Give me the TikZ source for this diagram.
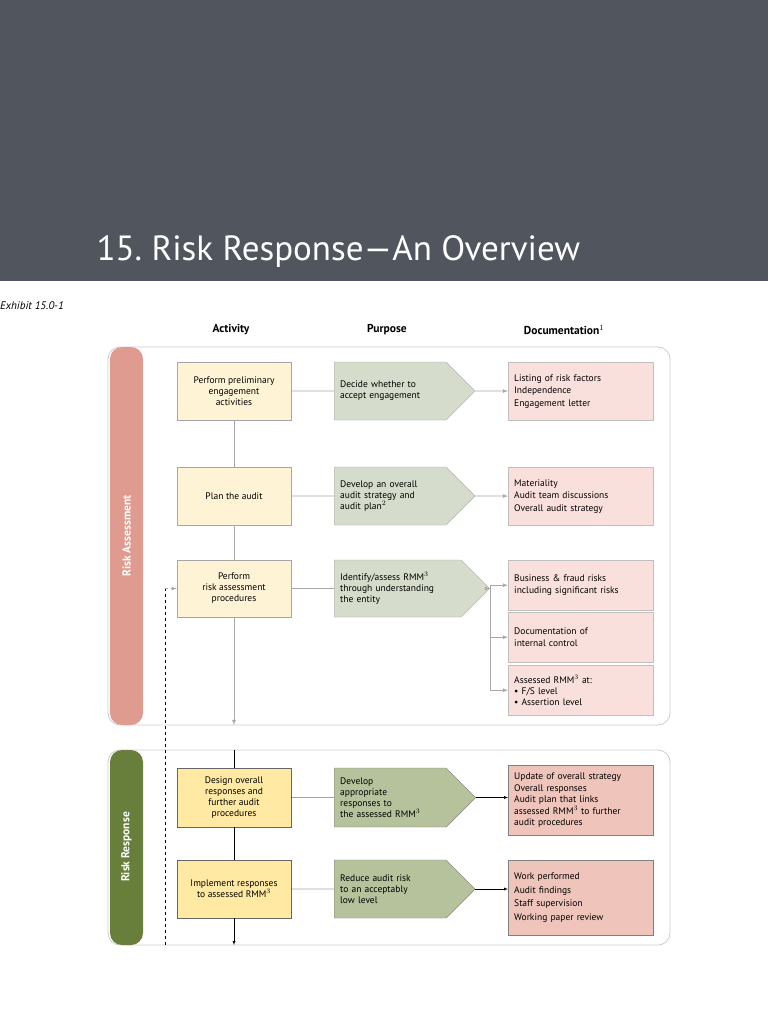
\documentclass[tikz,border=0pt]{standalone}
\usepackage{fontspec}
\setmainfont{PT Sans}
\usetikzlibrary{arrows,shapes,positioning,calc,backgrounds,fit}
\definecolor{head}{HTML}{50555E}
\definecolor{bandA}{HTML}{E09B90}
\definecolor{bandR}{HTML}{677F3A}
\definecolor{actA}{HTML}{FFF3D6}
\definecolor{actR}{HTML}{FFE9A3}
\definecolor{purA}{HTML}{D6DCCB}
\definecolor{purR}{HTML}{B5C29C}
\definecolor{docA}{HTML}{FAE0DC}
\definecolor{docR}{HTML}{EEC4BB}
\definecolor{lineA}{HTML}{A8A8A8}
\begin{document}
\begin{tikzpicture}
[x=1pt,y=-1pt,
panel/.style={draw=black!20,rounded corners=12pt,line width=.8pt},
band/.style={rounded corners=12pt},
activity/.style={draw=black!35,minimum width=114pt,align=center,font=\fontsize{9.5}{11}\selectfont},
purpose/.style={draw=black!35,signal,signal to=east,signal pointer angle=90,
  text width=100pt,align=left,inner xsep=6pt,font=\fontsize{9.5}{11}\selectfont},
docu/.style={draw=black!25,align=left,font=\fontsize{9.5}{12.5}\selectfont},
link/.style={lineA,line width=.8pt},
arr/.style={link,-latex},
]
%% header
\useasboundingbox (0,0) rectangle (768,1024);
\fill[head] (0,0) rectangle (768,281);
\node (title) [anchor=base west,white,font=\fontsize{35}{40}\selectfont] at (93,260)
  {15.\ Risk Response---An Overview};
\node (exh) [anchor=base west,inner sep=0pt,font=\itshape\fontsize{11}{13}\selectfont] at (0,309) {Exhibit 15.0-1};
\node (h1) [font=\bfseries\fontsize{11.5}{13}\selectfont] at (231,330) {Activity};
\node (h2) [font=\bfseries\fontsize{11.5}{13}\selectfont] at (387,330) {Purpose};
\node (h3) [font=\bfseries\fontsize{11.5}{13}\selectfont] at (564,330) {Documentation$^1$};
%% panels
\draw[panel] (108,347) rectangle (670,725);
\draw[panel] (108,750) rectangle (670,945);
\fill[band,bandA] (110,347) rectangle (143,725);
\fill[band,bandR] (110,750) rectangle (143,945);
\node (ba) [rotate=90,white,font=\bfseries\fontsize{11.5}{13}\selectfont] at (126.5,536) {Risk Assessment};
\node (br) [rotate=90,white,font=\bfseries\fontsize{11.5}{13}\selectfont] at (126.5,847) {Risk Response};
%% risk assessment
\node (a1) [activity,fill=actA,minimum height=58pt] at (234,391) {Perform preliminary\\engagement\\activities};
\node (a2) [activity,fill=actA,minimum height=58pt] at (234,496) {Plan the audit};
\node (a3) [activity,fill=actA,minimum height=57pt] at (234,588.5) {Perform\\risk assessment\\procedures};
\node (p1) [purpose,fill=purA,minimum height=58pt,anchor=west] at (334,391) {Decide whether to\\accept engagement};
\node (p2) [purpose,fill=purA,minimum height=58pt,anchor=west] at (334,496) {Develop an overall\\audit strategy and\\audit plan$^2$};
\node (p3) [purpose,fill=purA,minimum height=57pt,text width=115pt,anchor=west] at (334,588.5) {Identify/assess RMM$^3$\\through understanding\\the entity};
\node (d1) [docu,fill=docA,minimum width=145pt,minimum height=58pt,anchor=north west,
  text width=133pt] at (508,362) {Listing of risk factors\\Independence\\Engagement letter};
\node (d2) [docu,fill=docA,minimum width=145pt,minimum height=58pt,anchor=north west,
  text width=133pt] at (508,467) {Materiality\\Audit team discussions\\Overall audit strategy};
\node (d3) [docu,fill=docA,minimum width=145pt,minimum height=50pt,anchor=north west,
  text width=133pt] at (508,560) {Business \& fraud risks\\including significant risks\\[6pt]};
\node (d4) [docu,fill=docA,minimum width=145pt,minimum height=50pt,anchor=north west,
  text width=133pt] at (508,612) {Documentation of\\internal control\\[6pt]};
\node (d5) [docu,fill=docA,minimum width=145pt,minimum height=50pt,anchor=north west,
  text width=133pt,font=\fontsize{9.5}{11}\selectfont] at (508,665) {Assessed RMM$^3$ at:\\• F/S level\\• Assertion level};
\draw[link] (a1) -- (p1);
\draw[link] (a2) -- (p2);
\draw[link] (a3) -- (p3);
\draw[arr] (p1.east) -- (d1);
\draw[arr] (p2.east) -- (d2);
\draw[arr] (p3.east) -- (490,588.5);
\coordinate (fork) at (490,588.5);
\draw[arr] (fork) |- (d3.west);
\draw[arr] (fork) |- (d4.west);
\draw[arr] (fork) |- (d5.west);
\draw[link] (a1) -- (a2);
\draw[link] (a2) -- (a3);
\coordinate (downA) at (234,725);
\draw[arr] (a3) -- (downA);
%% risk response
\node (r1) [activity,fill=actR,minimum height=59pt,draw=black!60] at (234,797.5) {Design overall\\responses and\\further audit\\procedures};
\node (r2) [activity,fill=actR,minimum height=58pt,draw=black!60] at (234,889) {Implement responses\\to assessed RMM$^3$};
\node (q1) [purpose,fill=purR,minimum height=59pt,draw=black!50,anchor=west] at (334,797.5) {Develop\\appropriate\\responses to\\the assessed RMM$^3$};
\node (q2) [purpose,fill=purR,minimum height=58pt,draw=black!50,anchor=west] at (334,889) {Reduce audit risk\\to an acceptably\\low level};
\node (e1) [docu,fill=docR,minimum width=145pt,minimum height=70pt,anchor=north west,
  text width=133pt,draw=black!50,font=\fontsize{9.5}{11.5}\selectfont] at (508,765) {Update of overall strategy\\Overall responses\\Audit plan that links\\assessed RMM$^3$ to further\\audit procedures};
\node (e2) [docu,fill=docR,minimum width=145pt,minimum height=75pt,anchor=north west,
  text width=133pt,draw=black!50,font=\fontsize{9.5}{13.5}\selectfont] at (508,860) {Work performed\\Audit findings\\Staff supervision\\Working paper review};
\draw (r1) -- (q1);
\draw (r2) -- (q2);
\draw[-latex] (q1.east) -- (e1.west|-q1.east);
\draw[-latex] (q2.east) -- (e2.west|-q2.east);
\coordinate (topR) at (234,750);
\coordinate (downR) at (234,945);
\draw (topR) -- (r1);
\draw (r1) -- (r2);
\draw[-latex] (r2) -- (downR);
%% feedback
\coordinate (fb) at (165,945);
\draw[dashed] (fb) -- (165,588.5);
\draw[arr,dashed] (165,588.5) -- (a3.west);
\end{tikzpicture}
\end{document}
